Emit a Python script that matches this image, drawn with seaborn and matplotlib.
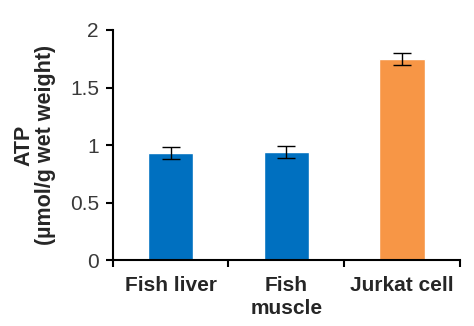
import matplotlib
matplotlib.use("Agg")
import matplotlib.pyplot as plt
import seaborn as sns
import pandas as pd

categories = ["Fish liver", "Fish\nmuscle", "Jurkat cell"]
atp_values = [0.93, 0.94, 1.75]
atp_errors = [0.05, 0.05, 0.05]
bar_colors = ["#0070C0", "#0070C0", "#F79646"]
y_ticks = [0, 0.5, 1, 1.5, 2]
y_tick_labels = ["0", "0.5", "1", "1.5", "2"]

sns.set_theme(style="white")
plt.rcParams['font.family'] = ['Liberation Sans', 'DejaVu Sans']

df = pd.DataFrame({"cat": categories, "atp": atp_values})

fig = plt.figure(figsize=(4.74, 3.26), dpi=100)
ax = fig.add_axes([0.238, 0.202, 0.732, 0.706])

sns.barplot(data=df, x="cat", y="atp", hue="cat", palette=bar_colors,
            legend=False, width=0.39, ax=ax, errorbar=None, saturation=1)
ax.errorbar(range(len(categories)), atp_values, yerr=atp_errors, fmt="none",
            ecolor="black", elinewidth=1, capsize=6.5, capthick=1)

ax.set_ylim(0, 2)
ax.set_xlim(-0.5, 2.5)
ax.set_yticks(y_ticks)
ax.set_yticklabels(y_tick_labels, fontsize=15, color="#3a3a3a")
ax.set_xticks([-0.5, 0.5, 1.5, 2.5], minor=False)
ax.set_xticklabels([])
for i, c in enumerate(categories):
    ax.text(i, -0.135, c, ha="center", va="top", fontsize=15,
            fontweight="bold", transform=ax.transData, linespacing=1.3)
ax.set_xlabel("")
ax.set_ylabel("ATP\n(µmol/g wet weight)", fontsize=15.5, fontweight="bold",
              linespacing=1.05, labelpad=10)

for s in ["top", "right"]:
    ax.spines[s].set_visible(False)
for s in ["left", "bottom"]:
    ax.spines[s].set_color("black")
    ax.spines[s].set_linewidth(1.5)
ax.tick_params(axis="both", direction="out", length=5, width=1.5, color="black",
               left=True, bottom=True)
ax.tick_params(axis="y", pad=5)

fig.savefig("out.png", dpi=100)
